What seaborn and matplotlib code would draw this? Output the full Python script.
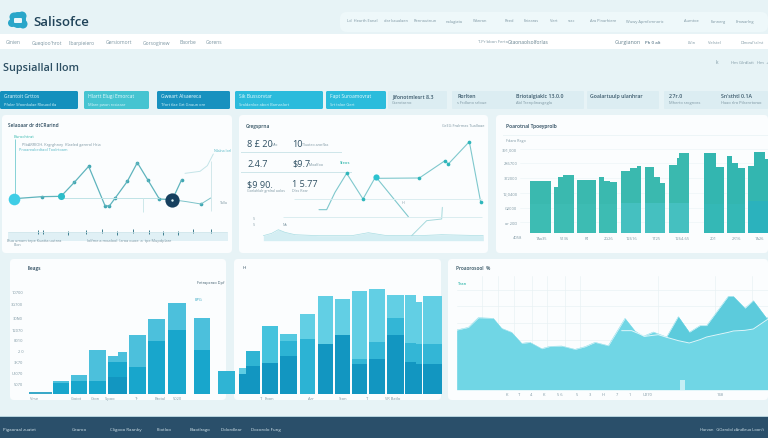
import matplotlib
matplotlib.use("Agg")
import matplotlib.pyplot as plt
from matplotlib.patches import FancyBboxPatch, Rectangle, Circle
import seaborn as sns

# ---------- data ----------
nav_labels = ["Ginien", "Gueqioo'hrot", "ilbarpieiero", "Gersiomort", "Gorsoginew", "Baorbe", "Gorens"]
top_labels = ["dar kaualaen", "Rennautnun", "nalugiata", "Wanran", "Reed", "Feiearas", "Vert", "srac", "Ara Pinarhiere", "Wuwy Apmfcmnoric", "Aumtoe", "Fannerg", "Emwarlng"]
kpi_dark_titles = ["Grantoit Grttos", "Hlartt Elugi Emorcat", "Gweart Alsaereca", "Sik Bussorvtar", "Fapt Suroamovrat"]
kpi_dark_subs = ["Pfoler Sfoonkalae Rlouod tla", "Mlare pwan rosiaaar", "Tfort tlae Grt Gnaun ore", "Sraldanloe abori Bamaslort", "Srt taloe Gert"]
kpi_light_titles = ["Jifonotmlesrt 8.3", "Rorlten", "Briotalgiaklc 13.0.0", "Goalartuulp ulanhrar", "2.7r.0", "Sn'sthtl 0.1A"]
kpi_light_subs = ["Grarotarno", "s Frdlano srloue", "Abl Trenplinasgegla", "", "Mherto srognoss", "Haao rlro Ptlranrtorao"]
footer_labels = ["Pigaoraal zuatet", "Gearoo", "Cligooo Raanby", "Fliotloo", "Blaotlrago", "Dolordlear", "Docorolo Fung"]
footer_right = "Harvan   GOarolol zAndleuo Loon't"

# line chart, top left
lc1_x = [43, 125, 183, 223, 266, 315, 328, 345, 382, 412, 443, 478, 517, 545]
lc1_y = [126, 132, 133, 175, 223, 105, 104, 127, 178, 234, 183, 125, 123, 183]
lc1_tail_x = [517, 560, 603, 632]
lc1_tail_y = [123, 117, 110, 128]
lc1_faint_x = [555, 600, 622, 640]
lc1_faint_y = [202, 208, 225, 260]
lc1_strip_x = [113, 130, 205, 258, 305, 352, 400, 447, 488, 533, 578, 632]
lc1_strip_y = [25, 26, 24, 25, 28, 24, 30, 27, 24, 24, 28, 28]

# line chart, top middle
lc2_a_x = [252, 275, 300, 335, 384, 422, 520]
lc2_a_y = [93, 93, 145, 202, 125, 192, 72]
lc2_b_x = [425, 553, 630, 640, 703, 737]
lc2_b_y = [187, 188, 240, 230, 297, 116]
lc2_c_x = [530, 575, 620, 622]
lc2_c_y = [15, 60, 65, 100]
lc2_area_x = [85, 110, 130, 150, 180, 250, 350, 400, 450, 550, 620, 745]
lc2_area_y = [15, 22, 33, 25, 18, 15, 15, 24, 16, 15, 18, 15]
stat_values = ["8 £ 20", "10", "2.4.7", "$9.7", "$9 90.", "1 5.77"]

# stepped bars, top right
tr_start = [105, 177, 190, 205, 247, 312, 328, 345, 377, 405, 425, 449, 478, 495, 521, 545, 553, 626, 662, 696, 712, 730, 760, 778, 810]
tr_end = [167, 190, 205, 237, 303, 328, 345, 366, 405, 425, 439, 478, 495, 511, 545, 553, 583, 662, 686, 712, 730, 749, 778, 810, 820]
tr_value = [157, 138, 168, 175, 160, 170, 158, 155, 188, 195, 202, 198, 168, 151, 206, 225, 240, 240, 198, 233, 210, 195, 203, 243, 223]
tr_lower = [88, 88, 88, 88, 88, 88, 88, 88, 92, 92, 92, 92, 92, 92, 92, 92, 92, 88, 88, 88, 88, 88, 96, 96, 96]
tr_yticks = [33, 76, 121, 166, 211, 254]
tr_ylabels = ["ar 20D", "G2000", "12,0400", "372000", "286700", "391,000"]
tr_xticks = [140, 207, 277, 340, 408, 483, 560, 656, 725, 793]
tr_xlabels = ["1Aa35", "5136", "R1", "2G26", "12616", "1T25", "1264.65", "201", "2R16", "1A26"]

# layered bars, bottom left and bottom middle
bb_start = [29, 53, 71, 89, 108, 118, 129, 148, 168, 194, 218, 239, 246, 262, 280, 300, 318, 335, 352, 369, 387, 405, 416, 423]
bb_end = [52, 69, 87, 106, 118, 127, 146, 165, 186, 210, 235, 246, 260, 278, 297, 315, 333, 350, 367, 385, 404, 416, 422, 442]
bb_top = [6, 37, 55, 131, 114, 125, 176, 224, 272, 228, 69, 77, 128, 203, 180, 239, 293, 284, 308, 313, 297, 297, 274, 294]
bb_mid = [0, 32, 39, 37, 94, 94, 79, 157, 192, 132, 0, 60, 82, 93, 157, 164, 148, 176, 104, 155, 227, 153, 150, 148]
bb_low = [0, 0, 0, 0, 49, 49, 0, 0, 0, 0, 0, 0, 0, 0, 112, 0, 0, 0, 90, 104, 177, 94, 90, 90]
bb_yticks = [29, 63, 97, 128, 161, 192, 228, 269, 307]
bb_ylabels = ["5070", "Ut070", "3K70", "2 0", "0010", "12070", "30N0", "3G700", "10700"]
bb_xticks = [34, 76, 95, 110, 137, 160, 177, 261, 269, 311, 343, 367, 393]
bb_xlabels = ["Vrse", "Ctoiot", "Gton", "Sipoo", "Tr", "Brotal", "5020", "T", "Eoon", "Arr", "Ston", "T", "5R Batlo"]

# area chart, bottom right
ar_x = [35, 70, 100, 145, 170, 200, 230, 255, 290, 315, 350, 390, 420, 450, 490, 540, 570, 595, 625, 665, 700, 733, 765, 785, 850, 865, 900, 925, 965, 969]
ar_y = [179, 187, 216, 214, 184, 172, 139, 142, 123, 130, 131, 121, 129, 142, 132, 214, 176, 160, 173, 158, 219, 172, 192, 192, 280, 280, 244, 267, 214, 217]
ar_line_x = [530, 560, 600, 640, 665, 700, 733, 765, 785, 850, 865, 900, 925, 965, 969]
ar_line_y = [177, 177, 160, 165, 157, 147, 140, 150, 158, 172, 176, 178, 182, 209, 212]
ar_shade_x = [665, 700, 733, 765, 785, 850, 865, 900, 925, 965, 969]
ar_shade_low = [157, 147, 140, 150, 158, 172, 176, 178, 182, 209, 212]
ar_shade_top = [158, 219, 172, 192, 192, 280, 280, 244, 267, 214, 217]
ar_notch_x = [705, 720]
ar_notch_y = [30, 30]
ar_xticks = [185, 222, 258, 298, 345, 395, 435, 475, 515, 555, 608, 825]
ar_xlabels = ["K", "T", "4", "K", "5 6", "5", "3", "H", "7", "1", "U270", "148"]
ar_grid_x = [112, 160, 208, 260, 305, 360, 405, 640, 810, 920]
ar_grid_y = [100, 150, 200, 250, 300]

# ---------- colours ----------
BG = "#e7f3f6"
PANEL = "#fbfdfe"
INK = "#3c5a6c"
GREY = "#7e97a3"
TEAL = "#36b9ae"
FONT = "Open Sans"

plt.rcParams["font.family"] = FONT
sns.set_theme(style="white", rc={"font.family": FONT, "axes.facecolor": "none"})

fig = plt.figure(figsize=(7.68, 4.39), dpi=100, facecolor=BG)
W, H = 768, 439

bg = fig.add_axes([0, 0, 1, 1])
bg.set_xlim(0, W)
bg.set_ylim(H, 0)
bg.axis("off")


def box(x0, y0, x1, y1, color, r=0.0, z=1, alpha=1):
    if r:
        bg.add_patch(FancyBboxPatch((x0 + r, y0 + r), x1 - x0 - 2 * r, y1 - y0 - 2 * r,
                                    boxstyle=f"round,pad={r}", fc=color, ec="none", zorder=z, alpha=alpha))
    else:
        bg.add_patch(Rectangle((x0, y0), x1 - x0, y1 - y0, fc=color, ec="none", zorder=z, alpha=alpha))


def label(x, y, s, size=3.6, color=GREY, weight="normal", ha="left"):
    bg.text(x, y, s, fontsize=size, color=color, fontweight=weight, ha=ha, va="center", zorder=5)


def chart(ox, oy, x0, x1, top, base):
    """Axes whose data window is placed over a region of the figure."""
    left = (ox + x0 / 3) / W
    right = (ox + x1 / 3) / W
    bottom = 1 - (oy + base / 3) / H
    height = (base - top) / 3 / H
    ax = fig.add_axes([left, bottom, right - left, height], zorder=3)
    ax.patch.set_alpha(0)
    sns.despine(ax=ax, left=True, bottom=True)
    ax.set_xticks([])
    ax.set_yticks([])
    ax.set_xlabel("")
    ax.set_ylabel("")
    return ax


def bars(ax, start, end, value, colors):
    n0 = len(ax.patches)
    sns.barplot(x=start, y=value, native_scale=True, color="#000000", saturation=1,
                errorbar=None, ax=ax, legend=False)
    for p, a, b, c in zip(ax.patches[n0:], start, end, colors):
        p.set_x(a)
        p.set_width(b - a)
        p.set_facecolor(c)
        p.set_edgecolor("none")


# ---------- header ----------
box(340, 13, 768, 33, "#eef8fa", r=7, z=1)
box(0, 35, 768, 50, "#ffffff", z=1)
for cx, cy, r in [(18, 21, 8), (14, 18, 4.5), (22, 17, 4.5), (12, 24, 4), (23, 25, 4.5)]:
    bg.add_patch(Circle((cx, cy), r, fc="#2aa6c9", ec="none", zorder=3))
box(14, 19, 22, 24, "#eaf6fa", r=1, z=4)
label(33, 22, "Salisofce", size=9.5, color="#1f4258", weight="semibold")
label(347, 21.5, "Ld  Hearth Eanal", size=2.9)
for x, s in zip([384, 414, 446, 473, 505, 524, 550, 568, 590, 626, 684, 711, 736], top_labels):
    label(x, 21.5, s, size=2.9)
for x, s in zip([6, 32, 69, 106, 143, 180, 206], nav_labels):
    label(x, 43, s, size=3.6)
label(478, 42, "T.Pr'bbon Ferta", size=3.0)
label(508, 42.5, "Gtaonaolsolforlas", size=3.6, color="#64808d")
label(615, 42.5, "Gurgianon", size=3.8, color="#64808d")
label(645, 42.5, "Ph 0 alt", size=3.2, color="#31566c")
label(688, 42.5, "LVin", size=3)
label(708, 42.5, "Velstel", size=3)
label(741, 42.5, "Dlmowl'talrst", size=2.7)
label(3, 69, "Supsiallal Ilom", size=7.8, color="#2d4f63", weight="semibold")
label(716, 63, "k", size=3.5)
label(731, 63, "Hm Glrdlatt", size=3)
label(757, 63, "Hm  +", size=3)

# ---------- KPI cards ----------
dark = [(0, 78, "#1490bd"), (84, 149, "#45c4d1"), (157, 230, "#1891bf"), (235, 323, "#2bbbdc"), (326, 386, "#2bbcdc")]
for (x0, x1, c), t, s in zip(dark, kpi_dark_titles, kpi_dark_subs):
    box(x0, 92, x1, 110, c, r=1.5, z=2)
    label(x0 + 4, 97, t, size=3.6, color="#e8fbff")
    label(x0 + 4, 105, s, size=2.9, color="#d5f4fa")
light = [(388, 447), (452, 584), (587, 659), (664, 768)]
for x0, x1 in light:
    box(x0, 92, x1, 110, "#dcedf2", r=1, z=2)
for x, t, s in zip([392, 457, 516, 590, 669, 721], kpi_light_titles, kpi_light_subs):
    label(x, 97, t, size=3.8, color=INK, weight="semibold")
    label(x, 103, s, size=2.9)

# ---------- panels ----------
for x0, y0, x1, y1 in [(2, 116, 232, 254), (239, 116, 488, 254), (496, 116, 768, 254),
                       (10, 260, 226, 401), (234, 260, 441, 401), (448, 260, 768, 401)]:
    box(x0, y0, x1, y1, PANEL, r=4, z=1)

# ---------- footer ----------
box(0, 418, 768, 439, "#2a4f6a", z=2)
box(0, 417, 768, 418.5, "#b6d2dc", z=1)
for x, s in zip([3, 72, 110, 157, 190, 221, 251], footer_labels):
    label(x, 430, s, size=3.2, color="#d5e5ec")
label(700, 430, footer_right, size=2.9, color="#d5e5ec")

# ---------- top left line chart ----------
label(8, 126, "Selaoaar dr dtCRarind", size=3.4, color="#27465a", weight="semibold")
label(14, 137.5, "Burochtrat", size=3, color=TEAL)
label(22, 145, "PIbARRIOH. Krgrghney  Klaeled garerol Hria", size=2.8)
label(19, 150, "Pnoarealcrdtaol Toolrtoam", size=2.8, color="#56b8c6")
label(214, 151, "Nlalna lorl", size=2.6, color="#56b8c6")
label(220, 203, "Talla", size=2.7)
box(8, 233, 228, 242, "#e0f0f5", z=2)
label(7, 241, "Bua umam tepe Kuatta uutrea", size=2.8)
label(87, 241, "lolfme a moalool  lzroa ouoe  a  tpe Mupdplare", size=2.8)
label(14, 245.5, "Bion", size=2.6)

ax = chart(0, 115, 0, 720, 0, 380)
sns.lineplot(x=lc1_x, y=lc1_y, color="#5fb4bd", lw=0.9, ax=ax, errorbar=None, sort=False)
sns.lineplot(x=lc1_tail_x, y=lc1_tail_y, color="#7cc3c9", lw=0.7, ax=ax, errorbar=None, sort=False)
sns.lineplot(x=lc1_faint_x, y=lc1_faint_y, color="#c4e4e8", lw=0.7, ax=ax, errorbar=None, sort=False)
ax.hlines(127, 183, 478, color="#bfe3e6", lw=0.7)
ax.vlines(46, 126, 305, color="#86d2d6", lw=0.7)
ax.vlines(634, 90, 240, color="#d2e8eb", lw=0.7)
ax.vlines(430, 85, 127, color="#cde8ea", lw=0.7)
sns.scatterplot(x=lc1_x[1:-2] + lc1_tail_x[2:3] + lc1_x[-1:], y=lc1_y[1:-2] + lc1_tail_y[2:3] + lc1_y[-1:],
                color="#3ea6b2", s=7, linewidth=0, ax=ax, legend=False)
sns.scatterplot(x=lc1_x[:1], y=lc1_y[:1], color="#3fcde6", s=70, linewidth=0, ax=ax, legend=False, zorder=4)
sns.scatterplot(x=lc1_x[2:3], y=lc1_y[2:3], color="#2cbdc9", s=26, linewidth=0, ax=ax, legend=False, zorder=4)
sns.scatterplot(x=lc1_x[12:13], y=lc1_y[12:13], color="#17405f", s=105, linewidth=0, ax=ax, legend=False, zorder=4)
sns.scatterplot(x=lc1_x[12:13], y=lc1_y[12:13], color="#dff5f8", s=3, linewidth=0, ax=ax, legend=False, zorder=5)
sns.scatterplot(x=lc1_strip_x, y=lc1_strip_y, color="#3f7f8f", marker="|", s=10, linewidth=0.7, ax=ax, legend=False)
ax.hlines(25, 25, 680, color="#cfe5ea", lw=0.5)
ax.set_xlim(0, 720)
ax.set_ylim(0, 380)
ax.set_xticks([])
ax.set_yticks([])
ax.set_xlabel("")
ax.set_ylabel("")

# ---------- top middle line chart ----------
label(246, 126.5, "Gregsprna", size=3.5, color="#30505f", weight="semibold")
label(442, 126.5, "GrEG Fralrmas Tualloae", size=2.8)
sx = [247, 292, 247, 292, 247, 292]
sy = [145, 145, 164.5, 164.5, 185, 185]
for x, y, s in zip(sx, sy, stat_values):
    label(x, y, s, size=6.6, color="#2f5063")
label(272, 145, "Mlo", size=2.6)
label(302, 145, "Tluateo arorflas", size=2.6)
label(309, 165, "lMoalfoo", size=2.6)
label(247, 191, "Gorlahlalr grnlral aolos", size=2.6)
label(292, 191, "Dlas Rear", size=2.6)
label(340, 163, "Sleos", size=3, color=TEAL, weight="semibold")
box(241, 153, 342, 153.5, "#cfe6ea", z=2)
box(241, 173, 352, 173.5, "#cfe6ea", z=2)
label(253, 219, "S", size=2.6)
label(253, 225, "S", size=2.6)
label(283, 225, "Ms", size=2.6)
label(402, 203, "H", size=2.6)

ax = chart(235, 115, 0, 780, 0, 380)
sns.lineplot(x=lc2_area_x, y=lc2_area_y, color="#a9dde3", lw=0.5, ax=ax, errorbar=None, sort=False)
ax.fill_between(lc2_area_x, 0, lc2_area_y, color="#d4eef3", lw=0)
sns.lineplot(x=lc2_a_x, y=lc2_a_y, color="#7fc8cd", lw=0.8, ax=ax, errorbar=None, sort=False)
sns.lineplot(x=lc2_b_x, y=lc2_b_y, color="#7fc8cd", lw=0.8, ax=ax, errorbar=None, sort=False)
sns.lineplot(x=lc2_c_x, y=lc2_c_y, color="#a6d9dc", lw=0.7, ax=ax, errorbar=None, sort=False)
ax.hlines(126, 178, 740, color="#d5ebee", lw=0.6)
ax.hlines(70, 145, 740, color="#d5ebee", lw=0.6)
sns.scatterplot(x=lc2_a_x[3:6] + lc2_b_x[1:], y=lc2_a_y[3:6] + lc2_b_y[1:], color="#2eb6bb", s=7, linewidth=0, ax=ax, legend=False, zorder=4)
sns.scatterplot(x=lc2_a_x[5:6], y=lc2_a_y[5:6], color="#2cc2cf", s=20, linewidth=0, ax=ax, legend=False, zorder=4)
ax.set_xlim(0, 780)
ax.set_ylim(0, 380)
ax.set_xticks([])
ax.set_yticks([])
ax.set_xlabel("")
ax.set_ylabel("")

# ---------- top right bars ----------
label(506, 126.5, "Poarotnal Tpoeyprolb", size=3.5, color="#27465a", weight="semibold")
label(506, 141, "Fdaro Rago", size=2.7)
box(503, 136, 768, 136.5, "#edf5f7", z=2)
ax = chart(495, 115, 75, 820, 85, 358)
bars(ax, tr_start, tr_end, tr_value, ["#3ab9af"] * 17 + ["#33b6b0"] * 8)
bars(ax, tr_start, tr_end, tr_lower, ["#3dbcb3"] * 8 + ["#45c0c0"] * 9 + ["#34b8b6"] * 5 + ["#2bb2bd"] * 3)
ax.set_xlim(75, 820)
ax.set_ylim(0, 273)
ax.set_yticks(tr_yticks)
ax.set_yticklabels(tr_ylabels, fontsize=2.9, color=GREY)
ax.set_xticks(tr_xticks)
ax.set_xticklabels(tr_xlabels, fontsize=2.9, color=GREY)
ax.tick_params(length=0, pad=2)
ax.grid(axis="y", color="#eef5f7", lw=0.5)
ax.set_axisbelow(True)
ax.set_xlabel("")
ax.set_ylabel("")
label(513, 238.5, "4058", size=2.9)

# ---------- bottom layered bars ----------
label(28, 268.5, "Ileags", size=3.5, color="#27465a", weight="semibold")
label(197, 283, "Fetrapcrao Dpf", size=2.9, color="#4a6675")
label(195, 300, "BPG", size=2.8, color="#39a9c4")
label(243, 268.5, "Hi", size=3, color="#27465a")
ax = chart(0, 260, 3 * 26, 3 * 442, 60, 404)
top_colors = ["#3aa9c8"] + ["#4cc0dc"] * 9 + ["#2fb4d4"] + ["#5fcde3"] + ["#2fb4d3"] + ["#45c3dd"] + ["#55c9e0"] + ["#62cfe4"] * 9
mid_colors = ["#3aa9c8"] + ["#18a6cc"] * 9 + ["#2fb4d4"] + ["#1296c1"] * 3 + ["#2cb3d4"] * 2 + ["#1296c1"] * 2 + ["#33b6d6"] * 6
low_colors = ["#18a6cc"] * 4 + ["#1296c1"] * 20
xs = [3 * v for v in bb_start]
xe = [3 * v for v in bb_end]
bars(ax, xs, xe, bb_top, top_colors)
bars(ax, xs, xe, bb_mid, mid_colors)
bars(ax, xs, xe, bb_low, low_colors)
ax.set_xlim(3 * 26, 3 * 442)
ax.set_ylim(0, 344)
ax.set_yticks(bb_yticks)
ax.set_yticklabels(bb_ylabels, fontsize=2.9, color=GREY)
ax.set_xticks([3 * v for v in bb_xticks])
ax.set_xticklabels(bb_xlabels, fontsize=2.9, color=GREY)
ax.tick_params(length=0, pad=2)
ax.set_xlabel("")
ax.set_ylabel("")

# ---------- bottom right area ----------
label(456, 268.5, "Proaorosool  %", size=3.4, color="#30505f", weight="semibold")
label(458, 284.5, "Tean", size=2.9, color=TEAL, weight="semibold")
ax = chart(445, 260, 35, 969, 50, 392)
ax.fill_between(ar_x, 0, ar_y, color="#70d6e5", lw=0)
sns.lineplot(x=ar_x, y=ar_y, color="#70d6e5", lw=0.3, ax=ax, errorbar=None, sort=False)
ax.fill_between(ar_shade_x, ar_shade_low, ar_shade_top, color="#5ccbdc", lw=0)
sns.lineplot(x=ar_line_x, y=ar_line_y, color="#dff6fa", lw=0.7, ax=ax, errorbar=None, sort=False)
ax.fill_between(ar_notch_x, 0, ar_notch_y, color="#c5eef4", lw=0)
ax.set_xlim(35, 969)
ax.set_ylim(0, 342)
ax.set_xticks(ar_grid_x, minor=True)
ax.set_yticks(ar_grid_y, minor=True)
ax.grid(which="minor", color="#e9f2f4", lw=0.5)
ax.set_axisbelow(True)
ax.set_yticks([])
ax.set_xticks(ar_xticks)
ax.set_xticklabels(ar_xlabels, fontsize=2.9, color=GREY)
ax.tick_params(which="both", length=0, pad=2)
ax.set_xlabel("")
ax.set_ylabel("")

fig.savefig("out.png", dpi=100, facecolor=BG)
